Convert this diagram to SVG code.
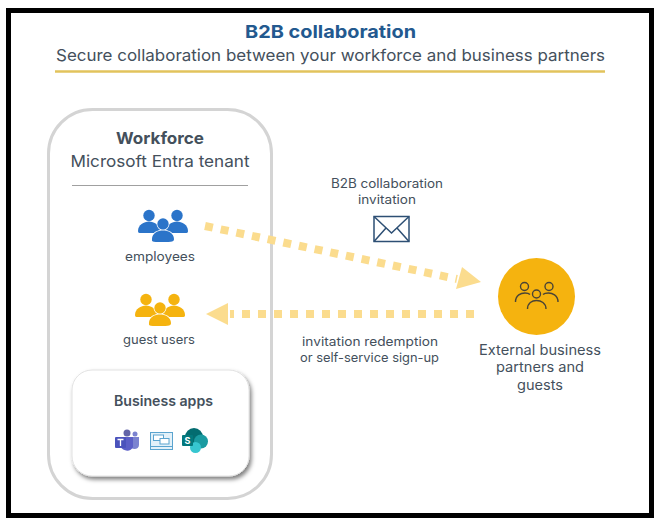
<svg xmlns="http://www.w3.org/2000/svg" width="659" height="521" viewBox="0 0 659 521">
<style>
text{font-family:"Inter","Liberation Sans",sans-serif;fill:#44505c;text-anchor:middle}
.s{font-size:12.500px}
.flow{fill:none;stroke:#fbdc8e;stroke-width:8;stroke-dasharray:8 8}
.head{fill:#fbdc8e}
.mid{stroke:#fff;stroke-width:1.500;paint-order:stroke}
</style>
<defs>
<filter id="sh" x="-10%" y="-10%" width="125%" height="125%"><feDropShadow dx="2" dy="3" stdDeviation="2" flood-color="#000" flood-opacity=".5"/></filter>
<g id="people">
<circle cx="-14" cy="-10.500" r="5.700"/><circle cx="14" cy="-10.500" r="5.700"/>
<path d="M-25 5C-25-1-19-4.500-14-4.500S-3-1-3 5V7H-23.500C-24.500 7-25 6-25 5Z"/>
<path d="M25 5C25-1 19-4.500 14-4.500S3-1 3 5V7H23.500C24.500 7 25 6 25 5Z"/>
<circle class="mid" cx="0" cy="-2" r="5.700"/>
<path class="mid" d="M-11 13C-11 7-5 4.500 0 4.500S11 7 11 13C11 15.500 10 16-1 16S-11 15.500-11 13Z"/>
</g>
</defs>
<rect width="659" height="521" fill="#fff"/>
<rect x="8.500" y="10.500" width="643" height="505" fill="none" stroke="#000" stroke-width="5"/>

<g id="header">
<text x="330.500" y="38" font-size="18" font-weight="700" textLength="171" lengthAdjust="spacingAndGlyphs" style="fill:#23598f">B2B collaboration</text>
<text x="330.500" y="61" font-size="16.500" textLength="549" lengthAdjust="spacingAndGlyphs">Secure collaboration between your workforce and business partners</text>
<path d="M55 71.500H605" stroke="#e2c35c" stroke-width="2.500"/>
</g>

<g id="workforce">
<rect x="48.500" y="109.500" width="223" height="389" rx="44" fill="none" stroke="#d4d4d4" stroke-width="3"/>
<text x="160" y="144" font-size="16.500" font-weight="700" textLength="88" lengthAdjust="spacingAndGlyphs">Workforce</text>
<text x="160" y="167" font-size="16.500" textLength="179" lengthAdjust="spacingAndGlyphs">Microsoft Entra tenant</text>
<path d="M72 185.500H248" stroke="#a0a0a0" stroke-width="1"/>
</g>

<g id="connectors">
<path class="flow" d="M205 226L457 279"/>
<path class="head" d="M462 267L481 282L456 289Z"/>
<path class="flow" d="M474 314H230"/>
<path class="head" d="M206 314L228 303V325Z"/>
</g>

<g id="employees">
<use href="#people" x="163" y="226" fill="#2b74c9"/>
<text class="s" x="160" y="261" textLength="70" lengthAdjust="spacingAndGlyphs">employees</text>
</g>

<g id="guest-users">
<use href="#people" x="160" y="310" fill="#f5b30f"/>
<text class="s" x="159" y="344" textLength="72" lengthAdjust="spacingAndGlyphs">guest users</text>
</g>

<g id="business-apps">
<rect x="72" y="370" width="177" height="106" rx="20" fill="#fff" stroke="#e2e2e2" filter="url(#sh)"/>
<text x="163.500" y="406" font-size="14.500" font-weight="600" textLength="99" lengthAdjust="spacingAndGlyphs">Business apps</text>
<g id="teams">
<circle cx="135" cy="434" r="2.500" fill="#7b83d0"/><circle cx="127" cy="433" r="3.500" fill="#6264a7"/>
<path d="M130 437H139V445C139 450 131 450 130 446Z" fill="#7b83d0"/>
<path d="M120 437H133V447C131 452 123 452 120 446Z" fill="#5b5fc7"/>
<rect x="115" y="437" width="11" height="11" rx="1" fill="#4b53bc"/>
<path d="M117.500 439.500H123.500M120.500 439.500V446" stroke="#fff" stroke-width="1.300"/>
</g>
<g id="board" fill="none" stroke="#5ba4cf" stroke-width="1">
<rect x="150.500" y="432.500" width="22" height="17" fill="#e3f1f9"/>
<rect x="153.500" y="435" width="10" height="5.500" fill="#fff"/><rect x="160" y="438.500" width="9" height="5.500" fill="#fff"/>
<path d="M151 446.500H172"/>
</g>
<g id="sharepoint">
<circle cx="194" cy="437" r="9" fill="#036c70"/><circle cx="201" cy="441.500" r="7" fill="#1a9ba1"/><circle cx="195.500" cy="447.500" r="5.500" fill="#37c6d0"/>
<rect x="182" y="435" width="11" height="11" rx="1" fill="#03787c"/>
<text x="187.500" y="444" font-size="9" font-weight="700" style="fill:#fff">S</text>
</g>
</g>

<g id="invitation">
<text class="s" x="387" y="188" textLength="112" lengthAdjust="spacingAndGlyphs">B2B collaboration</text>
<text class="s" x="387" y="204" textLength="58" lengthAdjust="spacingAndGlyphs">invitation</text>
<g fill="#fff" stroke="#2d4f74" stroke-width="1.500">
<rect x="374" y="216.500" width="35" height="25"/>
<path d="M374 216.500L391.500 233L409 216.500M374 241.500L386 228M409 241.500L397 228" fill="none"/>
</g>
</g>

<text class="s" x="370" y="346" textLength="136" lengthAdjust="spacingAndGlyphs">invitation redemption</text>
<text class="s" x="369.500" y="362" textLength="139" lengthAdjust="spacingAndGlyphs">or self-service sign-up</text>

<g id="external">
<circle cx="536.500" cy="296.500" r="38.500" fill="#f5b30f"/>
<g fill="none" stroke="#4a4436" stroke-width="1.400">
<circle cx="524.500" cy="286.500" r="4"/><circle cx="549" cy="286.500" r="4"/><circle cx="536.500" cy="294" r="4"/>
<path d="M515.500 302C515.500 295 521 293 525 293C527 293 529 293.500 530 294.500"/>
<path d="M558 302C558 295 552 293 548.500 293C546 293 544 293.500 543 294.500"/>
<path d="M527.500 309C527.500 303 532 300.500 536.500 300.500S546 303 546 309"/>
</g>
<text x="540" y="355" font-size="14" textLength="122" lengthAdjust="spacingAndGlyphs">External business</text>
<text x="540" y="372" font-size="14" textLength="88" lengthAdjust="spacingAndGlyphs">partners and</text>
<text x="540" y="390" font-size="14" textLength="46" lengthAdjust="spacingAndGlyphs">guests</text>
</g>
</svg>
